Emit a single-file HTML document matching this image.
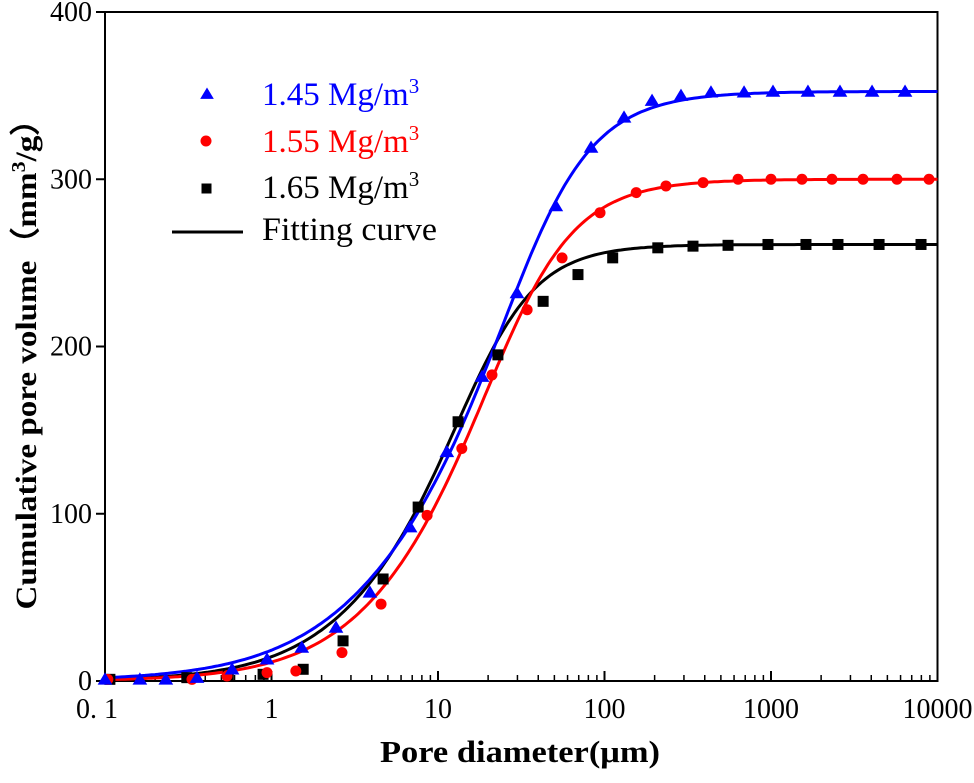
<!DOCTYPE html>
<html><head><meta charset="utf-8"><style>
body{margin:0;background:#fff}
svg text{font-family:"Liberation Serif",serif}
</style></head><body>
<svg id="c" width="974" height="778"></svg>
<script>
const blueD=[0.1,0.162,0.232,0.357,0.58,0.94,1.52,2.44,3.9,6.8,11.3,18.4,29.8,51,83,131,193,288,436,689,1028,1667,2596,4045,6383];
const blueV=[1,1,1,2,7,13,20,32,53,92,137,182,232,284,319,337,347,350,352,352,352.5,352.5,352.5,352.5,352.5];
const redD=[0.104,0.333,0.54,0.94,1.40,2.65,4.55,8.6,13.9,21.1,34.3,55.6,94,155,234,391,634,1000,1535,2323,3570,5710,8890];
const redV=[1,1,3,5,6,17,46,99,139,183,222,253,280,292,296,298,300,300,300,300,300,300,300];
const blackD=[0.107,0.31,0.55,0.89,1.55,2.69,4.68,7.6,13.2,22.9,42.8,69.3,112,209,340,552,959,1622,2525,4457,7962];
const blackV=[1,2,3,4,7,24,61,104,155,195,227,243,253,259,260,260.5,261,261,261,261,261];
const fitBlue={B:352.5,L0:1.245,wl:0.432,wh:0.288};
const fitRed={B:300,L0:1.194,wl:0.37,wh:0.278};
const fitBlack={B:261,L0:1.009,wl:0.36,wh:0.247};
const xTicks=[0.1,1,10,100,1000,10000];
const xTickLabels=["0. 1","1","10","100","1000","10000"];
const yTicks=[0,100,200,300,400];

const NS="http://www.w3.org/2000/svg";
const svg=document.getElementById('c');
const X0=105,X1=937.5,Y0=681,Y1=12;
const xs=d=>X0+(Math.log10(d)+1)/5*(X1-X0);
const ys=v=>Y0-v/400*(Y0-Y1);
function mk(t,a,p){const e=document.createElementNS(NS,t);for(const k in a)e.setAttribute(k,a[k]);(p||svg).appendChild(e);return e;}
function fit(f,L){const s=1/(1+Math.exp(-(L-f.L0)/0.3));const w=f.wl+(f.wh-f.wl)*s;return f.B/(1+Math.exp(-(L-f.L0)/w));}

let fr=mk('rect',{x:X0,y:Y1,width:X1-X0,height:Y0-Y1,fill:'none',stroke:'#000','stroke-width':2});

xTicks.forEach((t,i)=>{
  const x=xs(t);
  let l=mk('line',{x1:x,x2:x,y1:Y0,y2:Y0-10,stroke:'#000','stroke-width':2});
  
  let tx=mk('text',{x:i==0?x-8:x,y:718,'font-size':28,'text-anchor':'middle'});tx.textContent=xTickLabels[i];
  
  if(i<xTicks.length-1)for(let m=2;m<10;m++){const xm=xs(t*m);
    let ml=mk('line',{x1:xm,x2:xm,y1:Y0,y2:Y0-6,stroke:'#000','stroke-width':1.5});
    }
});
yTicks.forEach(t=>{
  const y=ys(t);
  let l=mk('line',{x1:X0,x2:X0-9,y1:y,y2:y,stroke:'#000','stroke-width':2});
  
  let tx=mk('text',{x:92,y:y+9,'font-size':28,'text-anchor':'end'});tx.textContent=t;
  
});
let xt=mk('text',{x:520,y:762,'font-size':31,'font-weight':'bold','text-anchor':'middle',textLength:280,lengthAdjust:'spacingAndGlyphs'});xt.textContent='Pore diameter(μm)';

let yt=mk('text',{x:0,y:0,'font-size':30,'font-weight':'bold','text-anchor':'middle',textLength:507,lengthAdjust:'spacingAndGlyphs',transform:'translate(36,356) rotate(-90)'});
yt.innerHTML='Cumulative pore volume（mm<tspan baseline-shift="super" font-size="20">3</tspan>/g）';


function curve(f,col,name){let d='';for(let L=-1;L<=4.0001;L+=0.02){d+=(d?'L':'M')+xs(Math.pow(10,L)).toFixed(1)+','+ys(fit(f,L)).toFixed(1);}
  let p=mk('path',{d:d,fill:'none',stroke:col,'stroke-width':3});}
curve(fitBlack,'#000','fit-curve-1-65');
curve(fitRed,'#f00','fit-curve-1-55');
curve(fitBlue,'#00f','fit-curve-1-45');
function tri(x,y,s){return mk('polygon',{points:`${x},${y-s} ${x-s*1.05},${y+s*0.75} ${x+s*1.05},${y+s*0.75}`,fill:'#00f'});}
blackD.forEach((d,i)=>{let r=mk('rect',{x:xs(d)-5.5,y:ys(blackV[i])-5.5,width:11,height:11,fill:'#000'});
  });
redD.forEach((d,i)=>{let c=mk('circle',{cx:xs(d),cy:ys(redV[i]),r:5.5,fill:'#f00'});
  });
blueD.forEach((d,i)=>{let t=tri(xs(d),ys(blueV[i]),7);
  });

const lg=mk('g',{});
let a=tri(207,94,6.5);lg.appendChild(a);
let b=mk('circle',{cx:206,cy:141,r:5.5,fill:'#f00'},lg);
let q=mk('rect',{x:201.5,y:183.5,width:10,height:10,fill:'#000'},lg);
let ln=mk('line',{x1:172,x2:243,y1:232,y2:232,stroke:'#000','stroke-width':3},lg);
[['1.45 Mg/m','#00f',105,'legend-label-1-45'],['1.55 Mg/m','#f00',152,'legend-label-1-55'],['1.65 Mg/m','#000',198,'legend-label-1-65']].forEach(r=>{
  let t=mk('text',{x:262,y:r[2],'font-size':33,fill:r[1]},lg);t.innerHTML=r[0]+'<tspan baseline-shift="super" font-size="21">3</tspan>';
  });
let ft=mk('text',{x:262,y:240,'font-size':33,textLength:175,lengthAdjust:'spacingAndGlyphs'},lg);ft.textContent='Fitting curve';

</script>
</body></html>
